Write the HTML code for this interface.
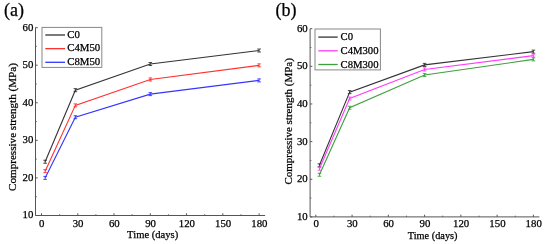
<!DOCTYPE html>
<html><head><meta charset="utf-8"><title>Compressive strength</title>
<style>
html,body{margin:0;padding:0;background:#fff;}
svg{display:block;}
text{font-family:"Liberation Serif","Times New Roman",serif;fill:#000;stroke:#000;stroke-width:0.25px;}
</style></head><body>
<svg width="550" height="244" viewBox="0 0 550 244">
<rect width="550" height="244" fill="#fff"/>
<polyline points="45.13,161.76 75.35,90.17 150.30,64.05 259.10,50.52" fill="none" stroke="#333" stroke-width="1.1" stroke-linejoin="miter"/>
<path d="M45.13,160.26V163.26M43.33,160.26H46.93M43.33,163.26H46.93" stroke="#333" stroke-width="0.9" fill="none"/>
<path d="M75.35,88.67V91.67M73.55,88.67H77.15M73.55,91.67H77.15" stroke="#333" stroke-width="0.9" fill="none"/>
<path d="M150.30,62.55V65.56M148.50,62.55H152.10M148.50,65.56H152.10" stroke="#333" stroke-width="0.9" fill="none"/>
<path d="M259.10,49.02V52.03M257.30,49.02H260.90M257.30,52.03H260.90" stroke="#333" stroke-width="0.9" fill="none"/>
<polyline points="45.13,171.16 75.35,105.39 150.30,79.46 259.10,65.37" fill="none" stroke="#ff3030" stroke-width="1.1" stroke-linejoin="miter"/>
<path d="M45.13,169.65V172.66M43.33,169.65H46.93M43.33,172.66H46.93" stroke="#ff3030" stroke-width="0.9" fill="none"/>
<path d="M75.35,103.89V106.89M73.55,103.89H77.15M73.55,106.89H77.15" stroke="#ff3030" stroke-width="0.9" fill="none"/>
<path d="M150.30,77.96V80.96M148.50,77.96H152.10M148.50,80.96H152.10" stroke="#ff3030" stroke-width="0.9" fill="none"/>
<path d="M259.10,63.86V66.87M257.30,63.86H260.90M257.30,66.87H260.90" stroke="#ff3030" stroke-width="0.9" fill="none"/>
<polyline points="45.13,177.92 75.35,117.23 150.30,94.12 259.10,80.40" fill="none" stroke="#3535ff" stroke-width="1.1" stroke-linejoin="miter"/>
<path d="M45.13,176.42V179.42M43.33,176.42H46.93M43.33,179.42H46.93" stroke="#3535ff" stroke-width="0.9" fill="none"/>
<path d="M75.35,115.73V118.73M73.55,115.73H77.15M73.55,118.73H77.15" stroke="#3535ff" stroke-width="0.9" fill="none"/>
<path d="M150.30,92.61V95.62M148.50,92.61H152.10M148.50,95.62H152.10" stroke="#3535ff" stroke-width="0.9" fill="none"/>
<path d="M259.10,78.90V81.90M257.30,78.90H260.90M257.30,81.90H260.90" stroke="#3535ff" stroke-width="0.9" fill="none"/>
<path d="M35.5,27.6V215.5H265.1" fill="none" stroke="#555" stroke-width="1.0"/>
<path d="M41.50,215.5v-2.2M59.63,215.5v-1.2M77.77,215.5v-2.2M95.90,215.5v-1.2M114.03,215.5v-2.2M132.17,215.5v-1.2M150.30,215.5v-2.2M168.43,215.5v-1.2M186.57,215.5v-2.2M204.70,215.5v-1.2M222.84,215.5v-2.2M240.97,215.5v-1.2M259.10,215.5v-2.2M35.5,215.50h2.2M35.5,196.71h1.2M35.5,177.92h2.2M35.5,159.13h1.2M35.5,140.34h2.2M35.5,121.55h1.2M35.5,102.76h2.2M35.5,83.97h1.2M35.5,65.18h2.2M35.5,46.39h1.2M35.5,27.60h2.2" fill="none" stroke="#555" stroke-width="1.0"/>
<text x="41.80" y="226.5" font-size="10.8" text-anchor="middle">0</text>
<text x="78.07" y="226.5" font-size="10.8" text-anchor="middle">30</text>
<text x="114.33" y="226.5" font-size="10.8" text-anchor="middle">60</text>
<text x="150.60" y="226.5" font-size="10.8" text-anchor="middle">90</text>
<text x="186.87" y="226.5" font-size="10.8" text-anchor="middle">120</text>
<text x="223.14" y="226.5" font-size="10.8" text-anchor="middle">150</text>
<text x="259.40" y="226.5" font-size="10.8" text-anchor="middle">180</text>
<text x="33.3" y="218.40" font-size="10.8" text-anchor="end">10</text>
<text x="33.3" y="180.82" font-size="10.8" text-anchor="end">20</text>
<text x="33.3" y="143.24" font-size="10.8" text-anchor="end">30</text>
<text x="33.3" y="105.66" font-size="10.8" text-anchor="end">40</text>
<text x="33.3" y="68.08" font-size="10.8" text-anchor="end">50</text>
<text x="33.3" y="30.50" font-size="10.8" text-anchor="end">60</text>
<text x="127.1" y="238.0" font-size="10.6">Time (days)</text>
<text transform="translate(16.3,191.0) rotate(-90)" font-size="11.13">Compressive strength (MPa)</text>
<text x="4.0" y="15.7" font-size="18">(a)</text>
<rect x="42.0" y="27.4" width="59.8" height="40.0" fill="#fff" stroke="#888" stroke-width="1"/>
<path d="M45.3,35.00H65.0" stroke="#333" stroke-width="1.3"/>
<text x="67.2" y="37.60" font-size="10.8">C0</text>
<path d="M45.3,48.65H65.0" stroke="#ff3030" stroke-width="1.3"/>
<text x="67.2" y="51.25" font-size="10.8">C4M50</text>
<path d="M45.3,62.30H65.0" stroke="#3535ff" stroke-width="1.3"/>
<text x="67.2" y="64.90" font-size="10.8">C8M50</text>
<polyline points="319.43,165.33 349.65,92.12 424.60,64.91 533.40,51.66" fill="none" stroke="#333" stroke-width="1.1" stroke-linejoin="miter"/>
<path d="M319.43,163.83V166.84M317.63,163.83H321.23M317.63,166.84H321.23" stroke="#333" stroke-width="0.9" fill="none"/>
<path d="M349.65,90.62V93.63M347.85,90.62H351.45M347.85,93.63H351.45" stroke="#333" stroke-width="0.9" fill="none"/>
<path d="M424.60,63.40V66.42M422.80,63.40H426.40M422.80,66.42H426.40" stroke="#333" stroke-width="0.9" fill="none"/>
<path d="M533.40,50.15V53.17M531.60,50.15H535.20M531.60,53.17H535.20" stroke="#333" stroke-width="0.9" fill="none"/>
<polyline points="319.43,168.72 349.65,98.52 424.60,69.43 533.40,55.61" fill="none" stroke="#ff3cff" stroke-width="1.1" stroke-linejoin="miter"/>
<path d="M319.43,167.22V170.23M317.63,167.22H321.23M317.63,170.23H321.23" stroke="#ff3cff" stroke-width="0.9" fill="none"/>
<path d="M349.65,97.02V100.03M347.85,97.02H351.45M347.85,100.03H351.45" stroke="#ff3cff" stroke-width="0.9" fill="none"/>
<path d="M424.60,67.92V70.93M422.80,67.92H426.40M422.80,70.93H426.40" stroke="#ff3cff" stroke-width="0.9" fill="none"/>
<path d="M533.40,54.11V57.12M531.60,54.11H535.20M531.60,57.12H535.20" stroke="#ff3cff" stroke-width="0.9" fill="none"/>
<polyline points="319.43,174.74 349.65,107.74 424.60,75.07 533.40,59.38" fill="none" stroke="#3ca03c" stroke-width="1.1" stroke-linejoin="miter"/>
<path d="M319.43,173.24V176.25M317.63,173.24H321.23M317.63,176.25H321.23" stroke="#3ca03c" stroke-width="0.9" fill="none"/>
<path d="M349.65,106.24V109.25M347.85,106.24H351.45M347.85,109.25H351.45" stroke="#3ca03c" stroke-width="0.9" fill="none"/>
<path d="M424.60,73.57V76.58M422.80,73.57H426.40M422.80,76.58H426.40" stroke="#3ca03c" stroke-width="0.9" fill="none"/>
<path d="M533.40,57.87V60.88M531.60,57.87H535.20M531.60,60.88H535.20" stroke="#3ca03c" stroke-width="0.9" fill="none"/>
<path d="M310.1,28.7V216.9H539.4" fill="none" stroke="#555" stroke-width="1.0"/>
<path d="M315.80,216.9v-2.2M333.93,216.9v-1.2M352.07,216.9v-2.2M370.20,216.9v-1.2M388.33,216.9v-2.2M406.47,216.9v-1.2M424.60,216.9v-2.2M442.73,216.9v-1.2M460.87,216.9v-2.2M479.00,216.9v-1.2M497.13,216.9v-2.2M515.27,216.9v-1.2M533.40,216.9v-2.2M310.1,216.90h2.2M310.1,198.08h1.2M310.1,179.26h2.2M310.1,160.44h1.2M310.1,141.62h2.2M310.1,122.80h1.2M310.1,103.98h2.2M310.1,85.16h1.2M310.1,66.34h2.2M310.1,47.52h1.2M310.1,28.70h2.2" fill="none" stroke="#555" stroke-width="1.0"/>
<text x="316.10" y="226.9" font-size="10.8" text-anchor="middle">0</text>
<text x="352.37" y="226.9" font-size="10.8" text-anchor="middle">30</text>
<text x="388.63" y="226.9" font-size="10.8" text-anchor="middle">60</text>
<text x="424.90" y="226.9" font-size="10.8" text-anchor="middle">90</text>
<text x="461.17" y="226.9" font-size="10.8" text-anchor="middle">120</text>
<text x="497.44" y="226.9" font-size="10.8" text-anchor="middle">150</text>
<text x="533.70" y="226.9" font-size="10.8" text-anchor="middle">180</text>
<text x="307.7" y="219.80" font-size="10.8" text-anchor="end">10</text>
<text x="307.7" y="182.16" font-size="10.8" text-anchor="end">20</text>
<text x="307.7" y="144.52" font-size="10.8" text-anchor="end">30</text>
<text x="307.7" y="106.88" font-size="10.8" text-anchor="end">40</text>
<text x="307.7" y="69.24" font-size="10.8" text-anchor="end">50</text>
<text x="307.7" y="31.60" font-size="10.8" text-anchor="end">60</text>
<text x="407.8" y="238.5" font-size="10.3">Time (days)</text>
<text transform="translate(292.3,184.6) rotate(-90)" font-size="11">Compressive strength (MPa)</text>
<text x="275.4" y="15.9" font-size="18">(b)</text>
<rect x="315.0" y="29.0" width="65.4" height="40.9" fill="#fff" stroke="#888" stroke-width="1"/>
<path d="M318.3,37.10H337.7" stroke="#333" stroke-width="1.3"/>
<text x="340.5" y="40.20" font-size="10.7">C0</text>
<path d="M318.3,50.80H337.7" stroke="#ff3cff" stroke-width="1.3"/>
<text x="340.5" y="53.90" font-size="10.7">C4M300</text>
<path d="M318.3,64.50H337.7" stroke="#3ca03c" stroke-width="1.3"/>
<text x="340.5" y="67.60" font-size="10.7">C8M300</text>
</svg>
</body></html>
